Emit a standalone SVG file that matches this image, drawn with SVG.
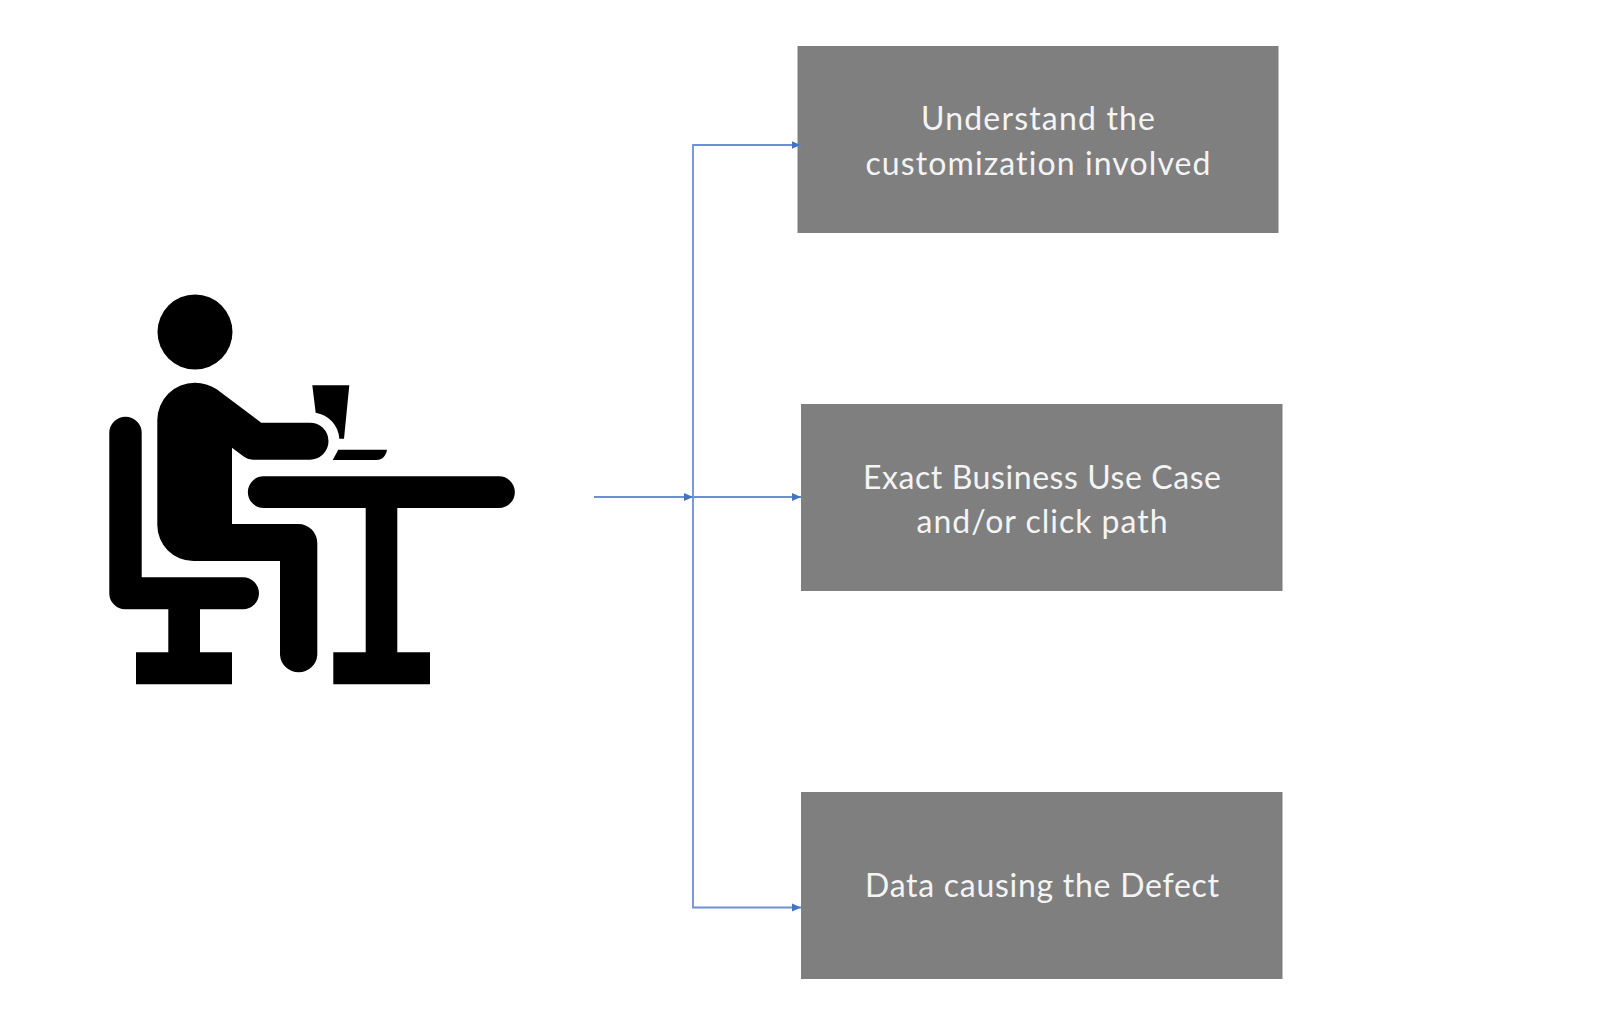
<svg xmlns="http://www.w3.org/2000/svg" width="1600" height="1029" viewBox="0 0 1600 1029">
<style>
.box{fill:#7f7f7f}
.lbl{font-family:"Lato","Open Sans","Liberation Sans",sans-serif;font-size:32px;fill:#f4f4f4;text-anchor:middle;font-variant-ligatures:none}
.wire{fill:none;stroke:#6f8fd3;stroke-width:1.8}
.fig{fill:#000}
</style>
<defs>
<marker id="arrow" markerUnits="userSpaceOnUse" markerWidth="10" markerHeight="9" refX="9" refY="4.5" orient="auto"><path d="M0 .5L9 4.5L0 8.5Z" fill="#4472c4"/></marker>
</defs>
<rect width="1600" height="1029" fill="#fff"/>
<g id="person">
<circle class="fig" cx="195" cy="332" r="37.5"/>
<path class="fig" d="M109.3 433A16.2 16.2 0 0 1 141.7 433V577.3H243A16 16 0 0 1 243 609.3H200V652.3H232V684.3H136V652.3H168.3V609.3H125A16 16 0 0 1 109.3 593.5Z"/>
<path class="fig" d="M157.3 420A37.5 37.5 0 0 1 195 382.7C203 382.7 210 385 216.7 389.3L261.3 422.7H310A18.5 18.5 0 0 1 310 459.7H255C250 459.7 247 459 243 456L232 447.7V524H298.3A19 19 0 0 1 317.3 543V655A18.7 18.7 0 0 1 280 655V561H193.3A36 36 0 0 1 157.3 525Z"/>
<path class="fig" d="M312.3 385.3H349.3L344 438.7H339.3A28 28 0 0 0 315.7 412.7Z"/>
<path class="fig" d="M338.3 449.7H387C386 456 382 460 376.7 460H332.7Z"/>
</g>
<g id="table">
<path class="fig" d="M263.7 476.3H499A15.85 15.85 0 0 1 499 508H397.3V652.3H430V684.3H333.3V652.3H365.7V508H263.7A15.85 15.85 0 0 1 263.7 476.3Z"/>
</g>
<g id="node-customization">
<rect class="box" x="797.5" y="46" width="481" height="187"/>
<text class="lbl" x="1038" y="130" textLength="234" lengthAdjust="spacing">Understand the</text>
<text class="lbl" x="1038" y="175" textLength="345" lengthAdjust="spacing">customization involved</text>
</g>
<g id="node-usecase">
<rect class="box" x="801" y="404" width="481.5" height="187"/>
<text class="lbl" x="1042" y="489" textLength="358" lengthAdjust="spacing">Exact Business Use Case</text>
<text class="lbl" x="1042" y="533" textLength="251" lengthAdjust="spacing">and/or click path</text>
</g>
<g id="node-data">
<rect class="box" x="801" y="792" width="481.5" height="187"/>
<text class="lbl" x="1042" y="897" textLength="354" lengthAdjust="spacing">Data causing the Defect</text>
</g>
<g id="connectors">
<path class="wire" marker-end="url(#arrow)" d="M594 497H693"/>
<path class="wire" marker-end="url(#arrow)" d="M693 497H801"/>
<path class="wire" marker-end="url(#arrow)" d="M693 497V145H800.5"/>
<path class="wire" marker-end="url(#arrow)" d="M693 497V907.5H801"/>
</g>
</svg>
